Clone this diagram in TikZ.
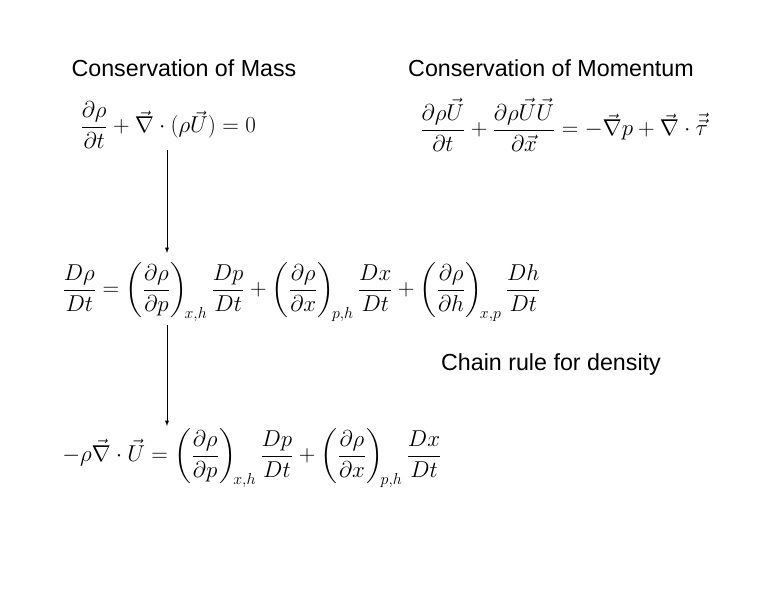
\documentclass[tikz,border=0pt]{standalone}
\usepackage{amsmath}
\usepackage{fontspec}
\setmainfont{Liberation Sans}
\begin{document}
\begin{tikzpicture}[x=0.02646cm,y=-0.02646cm,
    title/.style={font=\fontsize{17.5}{20}\selectfont},
    eqn/.style={font=\fontsize{17}{20}\selectfont,inner sep=0pt}]
  \useasboundingbox (0,0) rectangle (768,594);
  \node[title] (mass) at (184,68) {Conservation of Mass};
  \node[title] (mom) at (551,68) {Conservation of Momentum};
  \node[eqn] (eqmass) at (168,125) {$\dfrac{\partial\rho}{\partial t}+\vec{\nabla}\cdot(\rho\vec{U})=0$};
  \node[eqn] (eqmom) at (564,125) {$\dfrac{\partial\rho\vec{U}}{\partial t}+\dfrac{\partial\rho\vec{U}\vec{U}}{\partial\vec{x}}=-\vec{\nabla}p+\vec{\nabla}\cdot\vec{\vec{\tau}}$};
  \node[eqn,anchor=west] (eqchain) at (62,292) {$\dfrac{D\rho}{Dt}=\left(\dfrac{\partial\rho}{\partial p}\right)_{\!x,h}\dfrac{Dp}{Dt}+\left(\dfrac{\partial\rho}{\partial x}\right)_{\!p,h}\dfrac{Dx}{Dt}+\left(\dfrac{\partial\rho}{\partial h}\right)_{\!x,p}\dfrac{Dh}{Dt}$};
  \node[title] (chain) at (551,364) {Chain rule for density};
  \node[eqn,anchor=west] (eqdiv) at (62,458) {$-\rho\vec{\nabla}\cdot\vec{U}=\left(\dfrac{\partial\rho}{\partial p}\right)_{\!x,h}\dfrac{Dp}{Dt}+\left(\dfrac{\partial\rho}{\partial x}\right)_{\!p,h}\dfrac{Dx}{Dt}$};
  \coordinate (a1) at (167,150);\coordinate (b1) at (167,253);
  \coordinate (a2) at (167,325);\coordinate (b2) at (167,426);
  \draw[-latex] (a1) -- (b1);
  \draw[-latex] (a2) -- (b2);
\end{tikzpicture}
\end{document}
